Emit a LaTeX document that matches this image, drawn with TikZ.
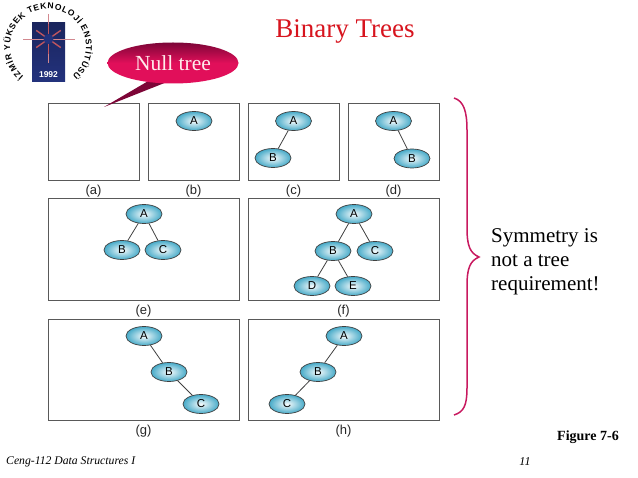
\documentclass[tikz,border=0pt]{standalone}
\usepackage{fontspec}
\setmainfont{Liberation Serif}
\setsansfont{Liberation Sans}
\usetikzlibrary{calc,positioning,shapes.geometric,decorations.text}
\definecolor{treeblue}{RGB}{70,170,200}
\definecolor{crimsonline}{RGB}{200,25,95}
\definecolor{crimsondark}{RGB}{125,5,55}
\definecolor{crimsonlite}{RGB}{225,15,90}
\definecolor{logoblue}{RGB}{35,50,125}
\definecolor{logostar}{RGB}{190,85,95}
\definecolor{titlered}{RGB}{215,20,30}
\def\logofont{\fontsize{8.5}{8.5}\selectfont\sffamily\bfseries}
\tikzset{panel/.style={rectangle, draw=black!65, line width=1pt, inner sep=0pt}}
\tikzset{treenode/.style={ellipse, draw=black!75, line width=0.7pt, minimum width=36pt, minimum height=19pt,
  inner sep=0pt, inner color=treeblue!5, outer color=treeblue, font=\sffamily\fontsize{11.5}{11.5}\selectfont}}
\tikzset{caption/.style={font=\sffamily\fontsize{13}{13}\selectfont, text=black!85, inner sep=0pt}}
\tikzset{treeedge/.style={draw=black!75, line width=0.8pt}}
\begin{document}
\begin{tikzpicture}[x=1pt,y=-1pt]
  \useasboundingbox (0,0) rectangle (638,478);
  % logo
  \begin{scope}[shift={(48,47)},y=1pt]
    \path[decorate, decoration={text along path, text align=fit to path,
      text={|\logofont|İZMİR YÜKSEK TEKNOLOJİ ENSTİTÜSÜ}}] (230:38) arc[start angle=230, end angle=-50, radius=38];
  \end{scope}
  \node[rectangle, minimum width=33pt, minimum height=59pt, inner sep=0pt, top color=logoblue!75!black, bottom color=logoblue] (logo) at (48.5,52.5) {};
  \draw[logostar!70!white, line width=0.8pt] (23,39) -- (75,39);
  \draw[logostar!70!white, line width=0.8pt] (48.5,14) -- (48.5,63);
  \foreach \a in {35,90,145,215,270,325}
    \draw[logostar, line width=1.4pt] (48.5,39) -- ++(\a:15);
  \fill[logoblue] (48.5,39) circle[radius=5];
  \node[font=\sffamily\bfseries\fontsize{8.5}{8.5}\selectfont, text=white, inner sep=0pt] (year) at (48.5,74.5) {1992};
  % title
  \node[font=\fontsize{27}{27}\selectfont, text=titlered, inner sep=0pt] (title) at (345,31) {Binary Trees};
  % panels
  \node[panel, minimum width=91pt, minimum height=77pt] (pa) at (93.5,142.5) {};
  \node[panel, minimum width=91pt, minimum height=77pt] (pb) at (193.5,142.5) {};
  \node[panel, minimum width=91pt, minimum height=77pt] (pc) at (293.5,142.5) {};
  \node[panel, minimum width=91pt, minimum height=77pt] (pd) at (393.5,142.5) {};
  \node[panel, minimum width=191pt, minimum height=102pt] (pe) at (143.5,250) {};
  \node[panel, minimum width=191pt, minimum height=102pt] (pf) at (343.5,250) {};
  \node[panel, minimum width=191pt, minimum height=101pt] (pg) at (143.5,370.5) {};
  \node[panel, minimum width=191pt, minimum height=101pt] (ph) at (343.5,370.5) {};
  \node[caption, below=3.5pt of pa] {(a)};
  \node[caption, below=3.5pt of pb] {(b)};
  \node[caption, below=3.5pt of pc] {(c)};
  \node[caption, below=3.5pt of pd] {(d)};
  \node[caption, below=3.5pt of pe] {(e)};
  \node[caption, below=3.5pt of pf] {(f)};
  \node[caption, below=3.5pt of pg] {(g)};
  \node[caption, below=3.5pt of ph] {(h)};
  % trees
  \node[treenode] (bA) at (194,121) {A};
  \node[treenode] (cA) at (293.5,121) {A};
  \node[treenode] (cB) at (273,158) {B};
  \draw[treeedge] (cA) -- (cB);
  \node[treenode] (dA) at (393.5,121) {A};
  \node[treenode] (dB) at (412,158.5) {B};
  \draw[treeedge] (dA) -- (dB);
  \node[treenode] (eA) at (144,214) {A};
  \node[treenode] (eB) at (122,250) {B};
  \node[treenode] (eC) at (163,250) {C};
  \draw[treeedge] (eA) -- (eB);
  \draw[treeedge] (eA) -- (eC);
  \node[treenode] (fA) at (354,214) {A};
  \node[treenode] (fB) at (333,251) {B};
  \node[treenode] (fC) at (375,251) {C};
  \node[treenode] (fD) at (312,286) {D};
  \node[treenode] (fE) at (353,286) {E};
  \draw[treeedge] (fA) -- (fB);
  \draw[treeedge] (fA) -- (fC);
  \draw[treeedge] (fB) -- (fD);
  \draw[treeedge] (fB) -- (fE);
  \node[treenode] (gA) at (144,336) {A};
  \node[treenode] (gB) at (169,372) {B};
  \node[treenode] (gC) at (201,404) {C};
  \draw[treeedge] (gA) -- (gB);
  \draw[treeedge] (gB) -- (gC);
  \node[treenode] (hA) at (344,336) {A};
  \node[treenode] (hB) at (318,372) {B};
  \node[treenode] (hC) at (287,404) {C};
  \draw[treeedge] (hA) -- (hB);
  \draw[treeedge] (hB) -- (hC);
  % callout
  \coordinate (tailend) at (104,107);
  \fill[crimsondark] (150,80) -- (tailend) -- (167,82) -- cycle;
  \node[ellipse, minimum width=131pt, minimum height=41pt, inner sep=0pt, top color=crimsondark, bottom color=crimsonlite,
    middle color=crimsonlite, text=white!92!red, font=\fontsize{21.5}{21.5}\selectfont] (nulltree) at (173,63) {Null tree};
  % brace
  \draw[crimsonline, line width=1.5pt] (454,98) .. controls (464,101) and (467,112) .. (467,130)
    -- (467,228) .. controls (467,246) and (470,253) .. (479,257)
    .. controls (470,261) and (467,268) .. (467,286)
    -- (467,388) .. controls (467,405) and (464,412) .. (454,415);
  % remarks
  \node[align=left, anchor=north west, inner sep=0pt, font=\fontsize{21}{24}\selectfont] (note) at (491,228) {Symmetry is\\not a tree\\requirement!};
  \node[font=\bfseries\fontsize{14}{14}\selectfont, inner sep=0pt] (fig) at (588,437) {Figure 7-6};
  \node[font=\itshape\fontsize{11.7}{11.7}\selectfont, anchor=west, inner sep=0pt] (course) at (6,462) {Ceng-112 Data Structures I};
  \node[font=\itshape\fontsize{12}{12}\selectfont, inner sep=0pt] (page) at (525,462) {11};
\end{tikzpicture}
\end{document}
